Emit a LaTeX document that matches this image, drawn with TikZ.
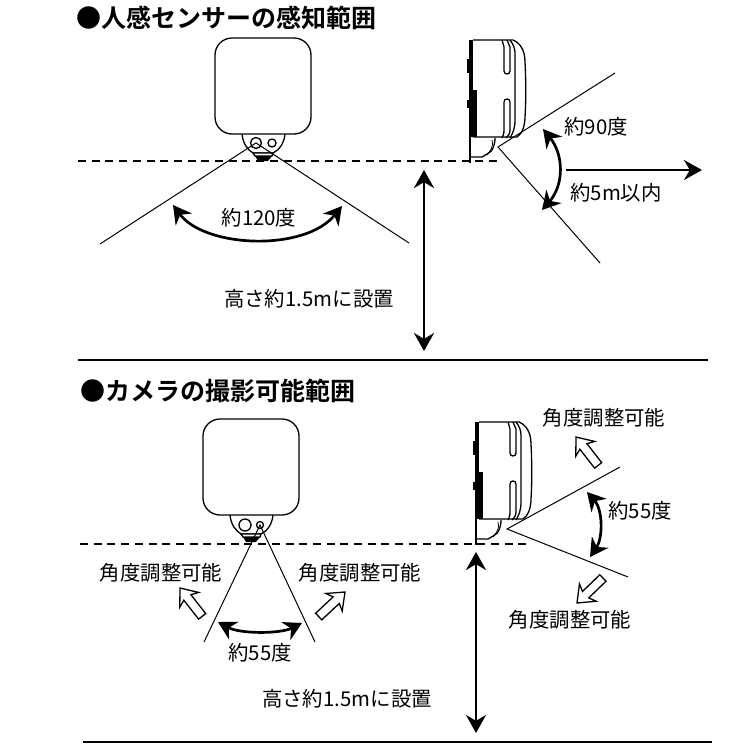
\documentclass[tikz,border=0pt]{standalone}
\usepackage{fontspec}
\setmainfont{Noto Sans CJK JP}
\newfontfamily\headfont{Noto Sans CJK JP Bold}
\usetikzlibrary{arrows.meta}
\tikzset{
  thinline/.style={draw=black,line width=1pt},
  devline/.style={draw=black,line width=1.3pt},
  dashline/.style={draw=black,line width=1.6pt,dash pattern=on 8pt off 5.7pt},
  rule/.style={draw=black,line width=1.6pt},
  bigarrow/.style={draw=black,line width=2.7pt,{Stealth[length=18pt,width=20pt]}-{Stealth[length=18pt,width=20pt]}},
  onearrow/.style={draw=black,line width=2.4pt,-{Stealth[length=18pt,width=20pt]}},
  hollow/.style={draw=black,line width=1.3pt,fill=white,line join=miter},
  lab/.style={font=\fontsize{20.4}{20.4}\selectfont,inner sep=0pt,text=black},
  head/.style={font=\fontsize{25}{25}\headfont,inner sep=0pt,text=black,anchor=west},
}
\newcommand{\frontdev}[3]{%
  \begin{scope}[shift={(#1,#2)}]
    \draw[devline] (27,96) .. controls (28,106) and (33,112) .. (38,115) -- (58,115) .. controls (64,112) and (69,106) .. (70,96);
    \draw[devline,fill=white] (38,115) -- (58,115) -- (57,118) -- (40,118) -- cycle;
    \fill[black] (40,118) -- (57,118) -- (53,123) -- (43,123) -- cycle;
    \draw[devline,rounded corners=17pt] (0,0) rectangle (96,96);
    #3
  \end{scope}
}
\newcommand{\sidedev}[2]{%
  \begin{scope}[shift={(#1,#2)}]
    \fill[black] (-1,0) rectangle (3,97);
    \fill[black] (-3,19) rectangle (-1,33);
    \fill[black] (-1,50) rectangle (7,97);
    \fill[black] (-3,60) rectangle (-1,68);
    \draw[line width=1.8pt] (0,95) -- (0,123);
    \draw[devline] (0,117) -- (12,117) .. controls (17,114) and (21,112) .. (22,110) .. controls (24,106) and (25,103) .. (25,98);
    \draw[line width=0.8pt] (17,115) .. controls (21,110) and (24,106) .. (22,100);
    \draw[devline] (3,0) -- (43,0) .. controls (50,3) and (55,10) .. (55,22) .. controls (56,40) and (56,62) .. (55,77) .. controls (55,86) and (52,94) .. (47,97) -- (3,97);
    \draw[devline] (32,0) -- (34,7) -- (34,31) .. controls (34,35) and (40,35) .. (40,31) -- (40,7) -- (37,0);
    \draw[devline] (40,0) .. controls (43,4) and (45,8) .. (45,13) -- (45,80) .. controls (45,88) and (43,93) .. (40,98);
    \draw[devline] (32,98) .. controls (33,96) and (34,94) .. (34,90) -- (34,62) .. controls (34,58) and (40,58) .. (40,62) -- (40,90) .. controls (40,94) and (38,96) .. (36,98);
  \end{scope}
}
\newcommand{\hollowarrow}[3]{% tip x, y, rotation
  \draw[hollow,shift={(#1,#2)},rotate=#3] (0,0) -- (12,15) -- (4.5,12) -- (4.5,36) -- (-4.5,36) -- (-4.5,12) -- (-12,15) -- cycle;
}
\begin{document}
\begin{tikzpicture}[x=1pt,y=-1pt]
\useasboundingbox (0,0) rectangle (750,750);
\fill[white] (0,0) rectangle (750,750);

% top section
\node[head] (h1) at (76,18) {●人感センサーの感知範囲};

\draw[dashline] (78,161) -- (497,161);
\frontdev{215}{38}{
  \draw[devline] (41,105) circle[radius=5.5];
  \draw[devline] (57,105) circle[radius=4];
}
\coordinate (a1) at (256,143);
\coordinate (a1l) at (100,244);
\coordinate (a1r) at (409,243);
\draw[thinline] (a1l) -- (a1) -- (a1r);

\sidedev{470}{40}
\coordinate (a2) at (498,147);
\coordinate (a2u) at (615,73);
\coordinate (a2d) at (600,263);
\draw[thinline] (a2u) -- (a2) -- (a2d);

\coordinate (c1a) at (173,205);
\coordinate (c1b) at (342,206);
\draw[bigarrow] (c1a) .. controls (205,248) and (305,252) .. (c1b);
\node[lab] (t1) at (259,218) {約120度};

\coordinate (c2a) at (543,129);
\coordinate (c2b) at (542,210);
\draw[bigarrow] (c2a) .. controls (564,155) and (564,185) .. (c2b);
\node[lab] (t2) at (596,127) {約90度};
\coordinate (r1a) at (566,170);
\coordinate (r1b) at (702,170);
\draw[onearrow] (r1a) -- (r1b);
\node[lab] (t3) at (616,193) {約5m以内};

\coordinate (v1a) at (424,170);
\coordinate (v1b) at (424,351);
\draw[bigarrow] (v1a) -- (v1b);
\node[lab] (t4) at (309,299) {高さ約1.5mに設置};

\coordinate (l1a) at (78,360);
\coordinate (l1b) at (708,360);
\draw[rule] (l1a) -- (l1b);

% bottom section
\node[head] (h2) at (80,391) {●カメラの撮影可能範囲};

\draw[dashline] (80,544) -- (526,544);
\frontdev{203}{419}{
  \draw[devline] (42,106) circle[radius=6];
  \draw[devline] (57,106) circle[radius=3.5];
}
\coordinate (a3) at (260,525);
\coordinate (a3l) at (204,642);
\coordinate (a3r) at (315,642);
\draw[thinline] (a3l) -- (a3) -- (a3r);

\sidedev{476}{422}
\coordinate (a4) at (507,529);
\coordinate (a4u) at (620,467);
\coordinate (a4d) at (628,577);
\draw[thinline] (a4u) -- (a4) -- (a4d);

\coordinate (c3a) at (218,622);
\coordinate (c3b) at (302,623);
\draw[bigarrow] (c3a) .. controls (240,634) and (280,634) .. (c3b);
\node[lab] (t5) at (260,653) {約55度};

\coordinate (c4a) at (587,492);
\coordinate (c4b) at (590,557);
\draw[bigarrow] (c4a) .. controls (603,510) and (603,538) .. (c4b);
\node[lab] (t6) at (640,511) {約55度};

\node[lab] (t7) at (604,418) {角度調整可能};
\node[lab] (t8) at (161,573) {角度調整可能};
\node[lab] (t9) at (360,573) {角度調整可能};
\node[lab] (t10) at (570,620) {角度調整可能};

\hollowarrow{576}{437}{38}
\hollowarrow{180}{588}{38}
\hollowarrow{345}{592}{-47}
\hollowarrow{577}{603}{134}

\coordinate (v2a) at (476,552);
\coordinate (v2b) at (476,733);
\draw[bigarrow] (v2a) -- (v2b);
\node[lab] (t11) at (347,699) {高さ約1.5mに設置};

\coordinate (l2a) at (83,742);
\coordinate (l2b) at (712,742);
\draw[rule] (l2a) -- (l2b);
\end{tikzpicture}
\end{document}
